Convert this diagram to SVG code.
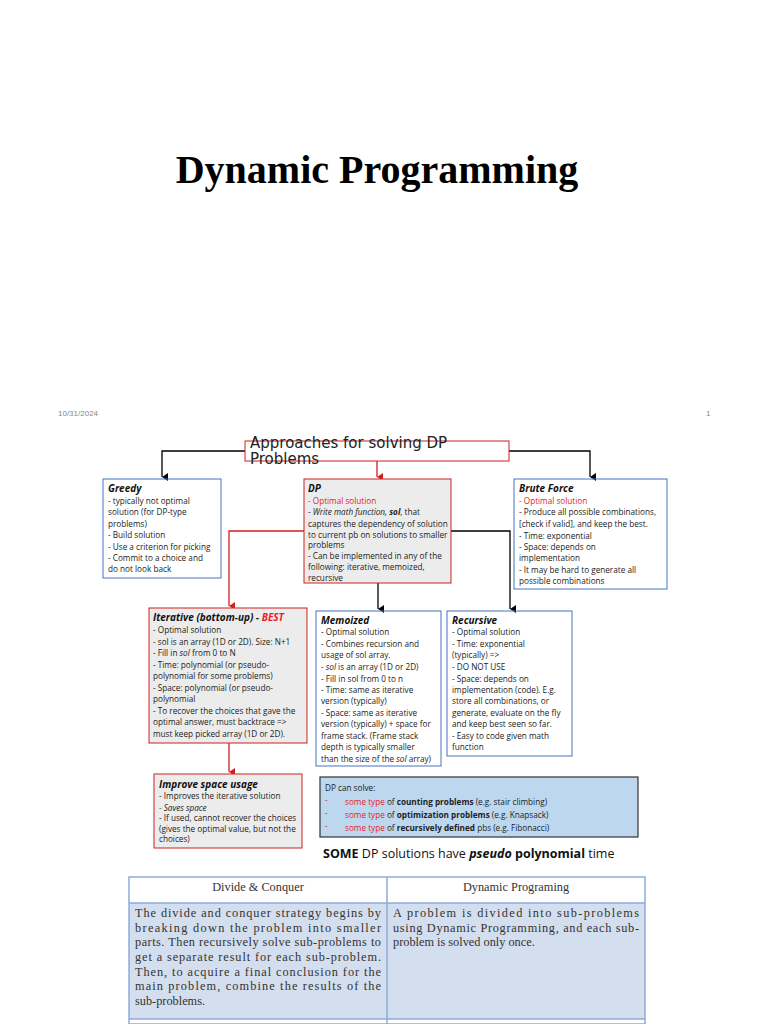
<svg xmlns="http://www.w3.org/2000/svg" width="768" height="1024" viewBox="0 0 768 1024">
<style>
.t{font-family:"Open Sans","Liberation Sans",sans-serif;font-size:8.2px;fill:#222}
.h{font-family:"Open Sans","Liberation Sans",sans-serif;font-size:10px;font-weight:bold;font-style:italic;fill:#111}
.red{fill:#e8202a}
.bl{fill:none;stroke:#4472c4;stroke-width:1}
.rb{fill:#ececec;stroke:#d02020;stroke-width:1}
.s{font-family:"Liberation Serif",serif;font-size:12.3px;fill:#333}
.c{fill:none;stroke-width:1.3}
</style>
<defs>
<marker id="ak" markerWidth="8" markerHeight="8" refX="4" refY="6" orient="auto" markerUnits="userSpaceOnUse" viewBox="0 0 8 8"><path d="M0,0 L4,6 L8,0 Z" fill="#000"/></marker>
<marker id="ar" markerWidth="8" markerHeight="8" refX="4" refY="6" orient="auto" markerUnits="userSpaceOnUse" viewBox="0 0 8 8"><path d="M0,0 L4,6 L8,0 Z" fill="#d02020"/></marker>
</defs>
<rect width="768" height="1024" fill="#fff"/>
<text x="377" y="183" text-anchor="middle" font-family="Liberation Serif,serif" font-size="40" font-weight="bold">Dynamic Programming</text>
<text x="58" y="416" font-family="Liberation Sans,sans-serif" font-size="8" fill="#888">10/31/2024</text>
<text x="706" y="416" font-family="Liberation Sans,sans-serif" font-size="8" fill="#888">1</text>

<g id="connectors">
<polyline class="c" stroke="#000" points="245,451 162,451 162,477" marker-end="url(#ak)"/>
<polyline class="c" stroke="#000" points="509,451 590,451 590,477" marker-end="url(#ak)"/>
<polyline class="c" stroke="#d02020" points="377,461 377,477" marker-end="url(#ar)"/>
<polyline class="c" stroke="#d02020" points="304,531 229,531 229,606" marker-end="url(#ar)"/>
<polyline class="c" stroke="#000" points="378,583 378,609" marker-end="url(#ak)"/>
<polyline class="c" stroke="#000" points="451,531 510,531 510,609" marker-end="url(#ak)"/>
<polyline class="c" stroke="#d02020" points="229,743 229,772" marker-end="url(#ar)"/>
</g>

<g id="header">
<rect x="245" y="441" width="264" height="20" fill="none" stroke="#d02020"/>
<text x="250" y="448" font-family="DejaVu Sans,sans-serif" font-size="15" fill="#222">Approaches for solving DP</text>
<text x="250" y="464" font-family="DejaVu Sans,sans-serif" font-size="15" fill="#222">Problems</text>
</g>

<g id="greedy">
<rect class="bl" x="103" y="479" width="118" height="99" fill="#fff"/>
<text class="h" x="108" y="492">Greedy</text>
<text class="t" x="108" y="504">- typically not  optimal</text>
<text class="t" x="108" y="515">solution (for DP-type</text>
<text class="t" x="108" y="527">problems)</text>
<text class="t" x="108" y="538">- Build solution</text>
<text class="t" x="108" y="550">- Use a criterion for picking</text>
<text class="t" x="108" y="561">- Commit to a choice and</text>
<text class="t" x="108" y="572">do not look back</text>
</g>

<g id="dp">
<rect class="rb" x="304" y="479" width="147" height="104"/>
<text class="h" x="308" y="492">DP</text>
<text class="t red" x="308" y="504">- Optimal solution</text>
<text class="t" x="308" y="515">- <tspan font-style="italic">Write math function, </tspan><tspan font-style="italic" font-weight="bold">sol</tspan>, that</text>
<text class="t" x="308" y="527">captures the dependency of solution</text>
<text class="t" x="308" y="538">to current pb on solutions to smaller</text>
<text class="t" x="308" y="548">problems</text>
<text class="t" x="308" y="559">- Can be implemented in any of the</text>
<text class="t" x="308" y="570">following: iterative, memoized,</text>
<text class="t" x="308" y="581">recursive</text>
</g>

<g id="brute">
<rect class="bl" x="514" y="479" width="153" height="110" fill="#fff"/>
<text class="h" x="519" y="492">Brute Force</text>
<text class="t red" x="519" y="504">- Optimal solution</text>
<text class="t" x="519" y="515">- Produce all possible combinations,</text>
<text class="t" x="519" y="527">[check if valid], and keep the best.</text>
<text class="t" x="519" y="539">- Time: exponential</text>
<text class="t" x="519" y="550">- Space: depends on</text>
<text class="t" x="519" y="561">implementation</text>
<text class="t" x="519" y="573">- It may be hard to generate all</text>
<text class="t" x="519" y="584">possible combinations</text>
</g>

<g id="iterative">
<rect class="rb" x="149" y="608" width="158" height="135"/>
<text class="h" x="153" y="621">Iterative (bottom-up) - <tspan fill="#e8202a">BEST</tspan></text>
<text class="t" x="153" y="633">- Optimal solution</text>
<text class="t" x="153" y="645">- sol is an array (1D or 2D). Size:  N+1</text>
<text class="t" x="153" y="656">- Fill in <tspan font-style="italic">sol</tspan> from 0 to N</text>
<text class="t" x="153" y="668">- Time: polynomial (or pseudo-</text>
<text class="t" x="153" y="679">polynomial for some problems)</text>
<text class="t" x="153" y="691">- Space: polynomial (or pseudo-</text>
<text class="t" x="153" y="702">polynomial</text>
<text class="t" x="153" y="714">- To recover the choices that gave the</text>
<text class="t" x="153" y="725">optimal answer, must backtrace =&gt;</text>
<text class="t" x="153" y="737">must keep picked array (1D or 2D).</text>
</g>

<g id="memoized">
<rect class="bl" x="316" y="611" width="125" height="155" fill="#fff"/>
<text class="h" x="321" y="624">Memoized</text>
<text class="t" x="321" y="635">- Optimal solution</text>
<text class="t" x="321" y="647">- Combines recursion and</text>
<text class="t" x="321" y="658">usage of sol array.</text>
<text class="t" x="321" y="670">- <tspan font-style="italic">sol</tspan> is an array (1D or 2D)</text>
<text class="t" x="321" y="682">- Fill in sol from 0 to n</text>
<text class="t" x="321" y="693">- Time: same as iterative</text>
<text class="t" x="321" y="704">version (typically)</text>
<text class="t" x="321" y="716">- Space: same as iterative</text>
<text class="t" x="321" y="727">version (typically) + space for</text>
<text class="t" x="321" y="739">frame stack. (Frame stack</text>
<text class="t" x="321" y="750">depth is typically smaller</text>
<text class="t" x="321" y="762">than the size of the <tspan font-style="italic">sol</tspan> array)</text>
</g>

<g id="recursive">
<rect class="bl" x="447" y="611" width="125" height="145" fill="#fff"/>
<text class="h" x="452" y="624">Recursive</text>
<text class="t" x="452" y="635">- Optimal solution</text>
<text class="t" x="452" y="647">- Time: exponential</text>
<text class="t" x="452" y="658">(typically)  =&gt;</text>
<text class="t" x="452" y="670">- DO NOT USE</text>
<text class="t" x="452" y="682">- Space: depends on</text>
<text class="t" x="452" y="693">implementation (code). E.g.</text>
<text class="t" x="452" y="704">store all combinations, or</text>
<text class="t" x="452" y="716">generate, evaluate on the fly</text>
<text class="t" x="452" y="727">and keep best seen so far.</text>
<text class="t" x="452" y="739">- Easy to code given math</text>
<text class="t" x="452" y="750">function</text>
</g>

<g id="improve">
<rect class="rb" x="154" y="774" width="148" height="74"/>
<text class="h" x="159" y="788">Improve space usage</text>
<text class="t" x="159" y="799" font-size="7.3">- Improves the iterative solution</text>
<text class="t" x="159" y="811" font-size="7.3" font-style="italic">- Saves space</text>
<text class="t" x="159" y="821" font-size="7.3">- If used, cannot recover the choices</text>
<text class="t" x="159" y="832" font-size="7.3">(gives the optimal value, but not the</text>
<text class="t" x="159" y="842" font-size="7.3">choices)</text>
</g>

<g id="dpcansolve">
<rect x="320" y="777" width="318" height="60" fill="#bdd7ee" stroke="#333" stroke-width="1.2"/>
<text class="t" x="325" y="791" font-size="9.5">DP can solve:</text>
<text class="t red" x="325" y="803" font-size="9.5">-</text>
<text class="t red" x="325" y="816" font-size="9.5">-</text>
<text class="t red" x="325" y="829" font-size="9.5">-</text>
<text class="t" x="345" y="805" font-size="9.5"><tspan fill="#e8202a">some type</tspan> of <tspan font-weight="bold">counting problems</tspan> (e.g. stair climbing)</text>
<text class="t" x="345" y="818" font-size="9.5"><tspan fill="#e8202a">some type</tspan> of <tspan font-weight="bold">optimization problems</tspan> (e.g. Knapsack)</text>
<text class="t" x="345" y="831" font-size="9.5"><tspan fill="#e8202a">some type</tspan> of <tspan font-weight="bold">recursively defined</tspan> pbs (e.g. Fibonacci)</text>
</g>

<text x="323" y="858" font-family="Open Sans,Liberation Sans,sans-serif" font-size="12.5" fill="#111"><tspan font-weight="bold">SOME</tspan> DP solutions have <tspan font-weight="bold" font-style="italic">pseudo</tspan> <tspan font-weight="bold">polynomial</tspan> time</text>

<g id="table">
<rect x="129" y="903" width="516" height="116" fill="#d3deee"/>
<rect x="129" y="877" width="516" height="147" fill="none" stroke="#8eaadb" stroke-width="1.5"/>
<line x1="129" y1="903" x2="645" y2="903" stroke="#8eaadb" stroke-width="1.5"/>
<line x1="129" y1="1019" x2="645" y2="1019" stroke="#8eaadb" stroke-width="1.5"/>
<line x1="387" y1="877" x2="387" y2="1024" stroke="#8eaadb" stroke-width="1.5"/>
<text class="s" x="258" y="891" text-anchor="middle" font-size="14">Divide &amp; Conquer</text>
<text class="s" x="516" y="891" text-anchor="middle" font-size="14">Dynamic Programing</text>
<text class="s" x="135" y="917" textLength="246" lengthAdjust="spacing">The divide and conquer strategy begins by</text>
<text class="s" x="135" y="932" textLength="246" lengthAdjust="spacing">breaking down the problem into smaller</text>
<text class="s" x="135" y="946" textLength="246" lengthAdjust="spacing">parts. Then recursively solve sub-problems to</text>
<text class="s" x="135" y="961" textLength="246" lengthAdjust="spacing">get a separate result for each sub-problem.</text>
<text class="s" x="135" y="976" textLength="246" lengthAdjust="spacing">Then, to acquire a final conclusion for the</text>
<text class="s" x="135" y="990" textLength="246" lengthAdjust="spacing">main problem, combine the results of the</text>
<text class="s" x="135" y="1005">sub-problems.</text>
<text class="s" x="393" y="917" textLength="246" lengthAdjust="spacing">A problem is divided into sub-problems</text>
<text class="s" x="393" y="932" textLength="246" lengthAdjust="spacing">using Dynamic Programming, and each sub-</text>
<text class="s" x="393" y="946">problem is solved only once.</text>
</g>
</svg>
